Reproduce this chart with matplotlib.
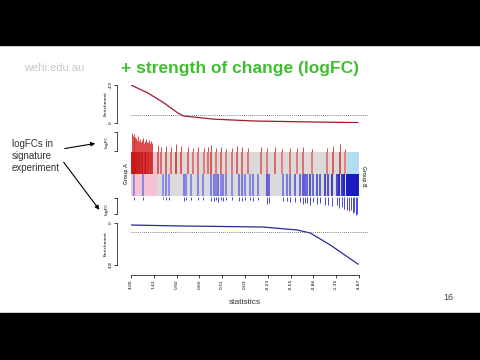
import numpy as np
import matplotlib
matplotlib.use("Agg")
import matplotlib.pyplot as plt
from matplotlib.patches import Rectangle, FancyArrowPatch
from matplotlib.colors import to_rgb

# genes ranked by statistic (rank 0..1000)
n_genes = 1000
tick_labels = ["4.00", "1.42", "0.92", "0.60", "0.31", "0.03",
               "-0.23", "-0.55", "-0.86", "-1.35", "-4.87"]

# up-regulated signature genes (Group A): rank and logFC
up_rank = [3, 7, 11, 15, 19, 23, 27, 31, 35, 39, 44, 48, 53, 57, 62, 66, 70, 74,
           79, 83, 88, 92, 118, 131, 153, 175, 197,
           218, 249, 271, 293, 319, 336, 349, 371, 393, 415, 445, 467, 489, 511,
           568, 598, 633, 664, 699, 729, 755, 795, 860, 886, 917, 939]
up_logfc = [4.6, 3.8, 4.2, 3.0, 3.5, 3.3, 2.8, 3.9, 2.6, 3.2, 2.4, 2.9, 3.4, 2.2,
            2.7, 3.1, 2.5, 2.3, 2.8, 2.1, 2.6, 2.2, 1.6, 1.2, 1.4,
            1.1, 2.0, 1.5, 1.3, 1.0, 1.2, 0.9, 1.1, 1.7, 1.0, 1.3, 0.8, 1.0, 1.4,
            1.2, 1.0, 1.1, 0.9, 1.3, 0.8, 1.0, 0.9, 1.1, 0.8, 0.9, 1.5, 1.8, 0.7]

# down-regulated signature genes (Group B): rank and |logFC|
down_rank = [13, 52, 140, 153, 166, 231, 240, 262, 293, 314, 349, 362, 371, 380,
             393, 402, 415, 445, 472, 489, 502, 524, 537, 555, 598, 607, 668, 686,
             699, 721, 742, 755, 764, 773, 786, 799, 817, 830, 852, 865, 882, 904,
             913, 926, 934, 948, 957, 965, 974, 980, 987, 993, 1000]
down_logfc = [0.6, 0.7, 0.5, 0.8, 0.6, 0.9, 0.7, 0.6, 0.8, 0.7, 0.9, 1.0, 0.8, 1.1,
              0.7, 0.9, 0.8, 0.6, 0.9, 1.0, 0.8, 0.7, 0.9, 0.8, 1.6, 1.4, 0.9, 1.0,
              1.1, 1.3, 1.2, 1.6, 1.5, 1.4, 1.8, 1.3, 1.6, 1.5, 2.0, 1.8, 2.2, 2.0,
              2.6, 2.3, 2.8, 3.0, 3.4, 3.2, 3.8, 3.6, 4.4, 4.1, 5.0]

# running enrichment curves
up_curve_rank = [0, 74, 144, 205, 231, 362, 537, 799, 996]
up_curve_val = [4.9, 3.87, 2.6, 1.3, 0.9, 0.5, 0.26, 0.13, 0.05]
down_curve_rank = [0, 218, 581, 729, 786, 873, 996]
down_curve_val = [0.23, 0.34, 0.46, 0.8, 1.14, 2.5, 4.7]

W, H = 480, 360
fig = plt.figure(figsize=(4.8, 3.6), dpi=100)
fig.patch.set_facecolor("white")


def box(x0, y0, x1, y1):
    # pixel box (top-left origin) -> figure fraction rect
    return [x0 / W, 1 - y1 / H, (x1 - x0) / W, (y1 - y0) / H]


def shade(light, dark, t):
    t = max(0.0, min(1.0, t))
    a, b = np.array(to_rgb(light)), np.array(to_rgb(dark))
    return tuple(a + (b - a) * t)


# black letterbox bars
fig.patches.append(Rectangle((0, 1 - 45 / H), 1, 45 / H, transform=fig.transFigure,
                             color="black", zorder=0))
fig.patches.append(Rectangle((0, 0), 1, (H - 313) / H, transform=fig.transFigure,
                             color="black", zorder=0))

fig.text(240 / W, 1 - 68 / H, "+ strength of change (logFC)", color="#3fbf2f",
         fontsize=12.5, fontweight="bold", ha="center", va="center",
         family="Liberation Sans")
fig.text(54 / W, 1 - 68 / H, "wehi.edu.au", color="#c8c8c8", fontsize=8,
         ha="center", va="center", family="Liberation Sans")
fig.text(12 / W, 1 - 156 / H, "logFCs in\nsignature\nexperiment", color="#333333",
         fontsize=7, ha="left", va="center", family="Liberation Sans", linespacing=1.2)
fig.text(448 / W, 1 - 298 / H, "16", color="#444444", fontsize=6.5,
         ha="center", va="center", family="Liberation Sans")
fig.text(245 / W, 1 - 303 / H, "statistics", color="#333333", fontsize=6,
         ha="center", va="center", family="Liberation Sans")

fig.patches.append(FancyArrowPatch(
    (62 / W, 1 - 149 / H), (98 / W, 1 - 143 / H), transform=fig.transFigure,
    arrowstyle="-|>", mutation_scale=6, color="black", lw=0.8))
fig.patches.append(FancyArrowPatch(
    (62 / W, 1 - 160 / H), (101 / W, 1 - 212 / H), transform=fig.transFigure,
    arrowstyle="-|>", mutation_scale=6, color="black", lw=0.8))

X0, X1 = 131, 359
red = "#d42a2a"
blue = "#2a2ad4"
small = 3.2


def clean(ax, left=False):
    for s in ax.spines.values():
        s.set_visible(False)
    ax.set_xlim(0, n_genes)
    ax.set_xticks([])
    if left:
        ax.spines["left"].set_visible(True)
        ax.spines["left"].set_position(("outward", 10))
        ax.spines["left"].set_linewidth(0.5)
        ax.tick_params(axis="y", length=2, width=0.5, labelsize=small, pad=1,
                       labelrotation=90)
    else:
        ax.set_yticks([])
    ax.patch.set_alpha(0)


# top enrichment
ax1 = fig.add_axes(box(X0, 85, X1, 123))
clean(ax1, left=True)
ax1.set_ylim(0, 4.9)
ax1.set_yticks([0, 4.9])
ax1.set_yticklabels(["0", "4.9"], va="center")
ax1.plot(up_curve_rank, up_curve_val, color="#a3182c", lw=0.9)
ax1.axhline(1, xmin=0, xmax=1.04, color="#555555", lw=0.6, ls=(0, (1, 1.5)), clip_on=False)
ax1.set_ylabel("Enrichment", fontsize=small, labelpad=1)

# up logFC bars
ax2 = fig.add_axes(box(X0, 131, X1, 152))
clean(ax2, left=True)
ax2.set_ylim(0, 5)
ax2.set_yticks([0.3, 4.7])
ax2.set_yticklabels(["", ""])
ax2.spines["left"].set_bounds(0.3, 4.7)
ax2.vlines(up_rank, 0, up_logfc, color=red, lw=0.6)
ax2.set_ylabel("logFC", fontsize=small, labelpad=3)

# barcode
ax3 = fig.add_axes(box(X0, 152, X1, 196))
clean(ax3)
ax3.set_ylim(0, 2)
ax3.add_patch(Rectangle((0, 0), n_genes, 2, color="#dadada", lw=0))
ax3.add_patch(Rectangle((0, 0), 115, 2, color="#f7c3d3", lw=0))
ax3.add_patch(Rectangle((948, 0), 52, 2, color="#b3ddf2", lw=0))
ax3.vlines(up_rank, 1.0, 2, lw=1.4,
           colors=[shade("#f0a0a0", "#c81818", v / 3.0) for v in up_logfc])
ax3.vlines(down_rank, 0, 1.0, lw=1.4,
           colors=[shade("#a8a8ee", "#1818c0", v / 3.0) for v in down_logfc])
ax3.text(-8, 1.0, "Group A", rotation=90, fontsize=small + 0.5, ha="right", va="center")
ax3.text(n_genes + 8, 0.9, "Group B", rotation=270, fontsize=small + 0.5, ha="left", va="center")

# down logFC bars
ax4 = fig.add_axes(box(X0, 197, X1, 220))
clean(ax4, left=True)
ax4.set_ylim(5.5, 0)
ax4.set_yticks([0.3, 4.0])
ax4.set_yticklabels(["", ""])
ax4.spines["left"].set_bounds(0.3, 4.0)
ax4.vlines(down_rank, 0, down_logfc, color=blue, lw=0.6)
ax4.set_ylabel("logFC", fontsize=small, labelpad=3)

# bottom enrichment
ax5 = fig.add_axes(box(X0, 223, X1, 265))
clean(ax5, left=True)
ax5.set_ylim(4.8, 0)
ax5.set_yticks([0, 4.8])
ax5.set_yticklabels(["0", "4.8"], va="center")
ax5.plot(down_curve_rank, down_curve_val, color="#2a2a9a", lw=0.9)
ax5.axhline(1, xmin=0, xmax=1.04, color="#555555", lw=0.6, ls=(0, (1, 1.5)), clip_on=False)
ax5.set_ylabel("Enrichment", fontsize=small, labelpad=1)
ax5.spines["bottom"].set_visible(True)
ax5.spines["bottom"].set_position(("outward", 7))
ax5.spines["bottom"].set_linewidth(0.5)
ax5.set_xticks(np.linspace(0, n_genes, len(tick_labels)))
ax5.set_xticklabels(tick_labels, rotation=90, fontsize=small)
ax5.tick_params(axis="x", length=2, width=0.5, pad=1)

fig.savefig("out.png", dpi=100)
